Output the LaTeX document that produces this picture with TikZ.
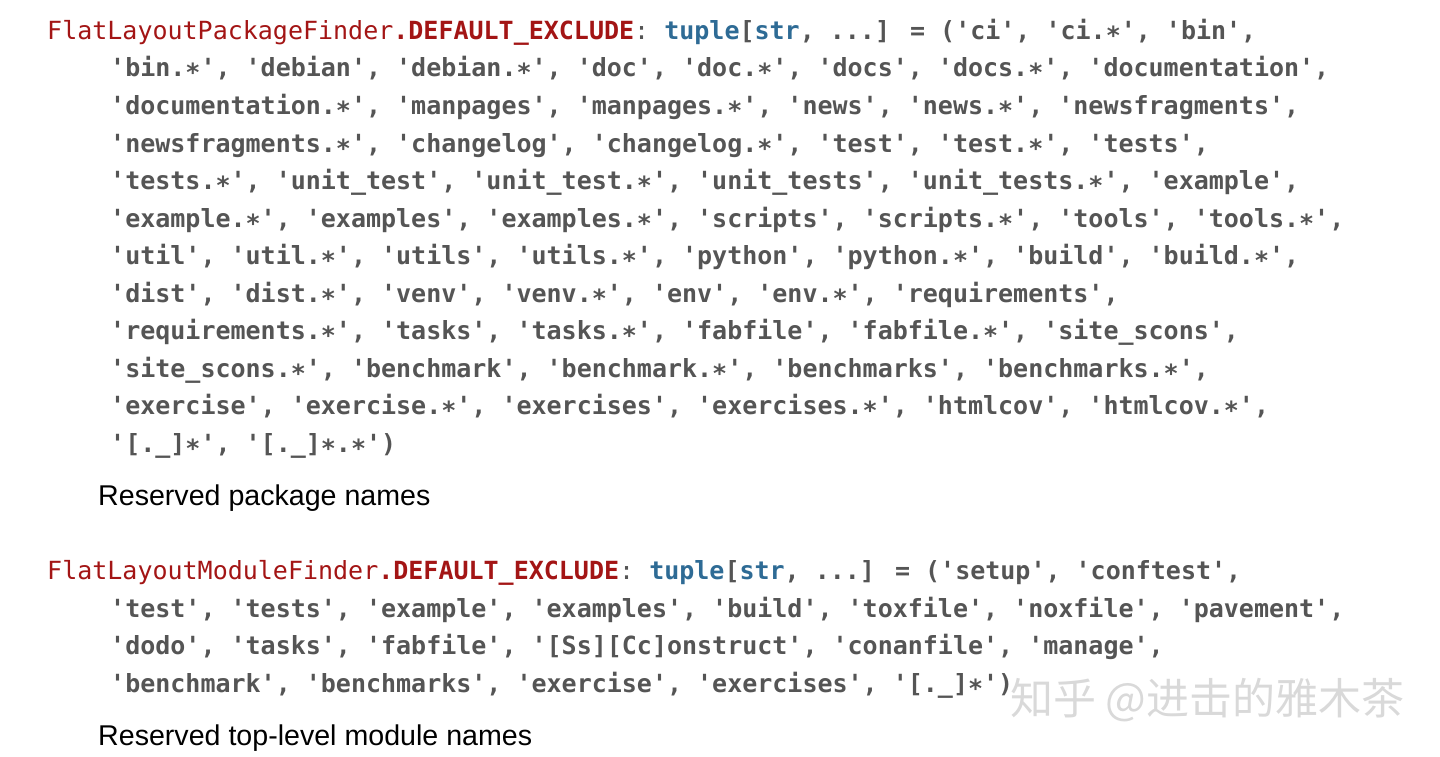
\documentclass[tikz,border=0pt]{standalone}
\usepackage{fontspec}
\newfontfamily\cmono{DejaVu Sans Mono}
\newfontfamily\csans{Liberation Sans}
\newfontfamily\cjk{Noto Sans CJK SC}
\definecolor{rd}{HTML}{A31515}
\definecolor{bl}{HTML}{2E6B95}
\definecolor{gr}{HTML}{555555}
\newcommand{\R}[1]{\textcolor{rd}{#1}}
\newcommand{\RB}[1]{\textcolor{rd}{\bfseries #1}}
\newcommand{\B}[1]{\textcolor{bl}{\bfseries #1}}
\begin{document}
\begin{tikzpicture}[x=1pt,y=-1pt,
  code/.style={anchor=base west,inner sep=0pt,font=\cmono\fontsize{25.0}{25.0}\selectfont\bfseries,text=gr},
  desc/.style={anchor=base west,inner sep=0pt,font=\csans\fontsize{28.6}{28.6}\selectfont,text=black}]
\useasboundingbox (0,0) rectangle (1440,756);
\node[code] (l1) at (47,39) {\R{\mdseries FlatLayoutPackageFinder}\RB{.DEFAULT\_EXCLUDE}\mdseries: \B{tuple}\bfseries[\B{str}, ...] = ('ci', 'ci.∗', 'bin',};
\node[code] (l2) at (110,76) {'bin.∗', 'debian', 'debian.∗', 'doc', 'doc.∗', 'docs', 'docs.∗', 'documentation',};
\node[code] (l3) at (110,114) {'documentation.∗', 'manpages', 'manpages.∗', 'news', 'news.∗', 'newsfragments',};
\node[code] (l4) at (110,152) {'newsfragments.∗', 'changelog', 'changelog.∗', 'test', 'test.∗', 'tests',};
\node[code] (l5) at (110,189) {'tests.∗', 'unit\_test', 'unit\_test.∗', 'unit\_tests', 'unit\_tests.∗', 'example',};
\node[code] (l6) at (110,227) {'example.∗', 'examples', 'examples.∗', 'scripts', 'scripts.∗', 'tools', 'tools.∗',};
\node[code] (l7) at (110,264) {'util', 'util.∗', 'utils', 'utils.∗', 'python', 'python.∗', 'build', 'build.∗',};
\node[code] (l8) at (110,302) {'dist', 'dist.∗', 'venv', 'venv.∗', 'env', 'env.∗', 'requirements',};
\node[code] (l9) at (110,339) {'requirements.∗', 'tasks', 'tasks.∗', 'fabfile', 'fabfile.∗', 'site\_scons',};
\node[code] (l10) at (110,377) {'site\_scons.∗', 'benchmark', 'benchmark.∗', 'benchmarks', 'benchmarks.∗',};
\node[code] (l11) at (110,414) {'exercise', 'exercise.∗', 'exercises', 'exercises.∗', 'htmlcov', 'htmlcov.∗',};
\node[code] (l12) at (110,452) {'[.\_]∗', '[.\_]∗.∗')};
\node[desc] (d1) at (98,505) {Reserved package names};
\node[code] (m1) at (47,579) {\R{\mdseries FlatLayoutModuleFinder}\RB{.DEFAULT\_EXCLUDE}\mdseries: \B{tuple}\bfseries[\B{str}, ...] = ('setup', 'conftest',};
\node[code] (m2) at (110,617) {'test', 'tests', 'example', 'examples', 'build', 'toxfile', 'noxfile', 'pavement',};
\node[code] (m3) at (110,654) {'dodo', 'tasks', 'fabfile', '[Ss][Cc]onstruct', 'conanfile', 'manage',};
\node[code] (m4) at (110,692) {'benchmark', 'benchmarks', 'exercise', 'exercises', '[.\_]∗')};
\node[desc] (d2) at (98,745) {Reserved top-level module names};
\node[anchor=base west,inner sep=0pt,font=\cjk\fontsize{43}{43}\selectfont,text=black!15] (wm) at (1010,714) {知乎 @进击的雅木茶};
\end{tikzpicture}
\end{document}
